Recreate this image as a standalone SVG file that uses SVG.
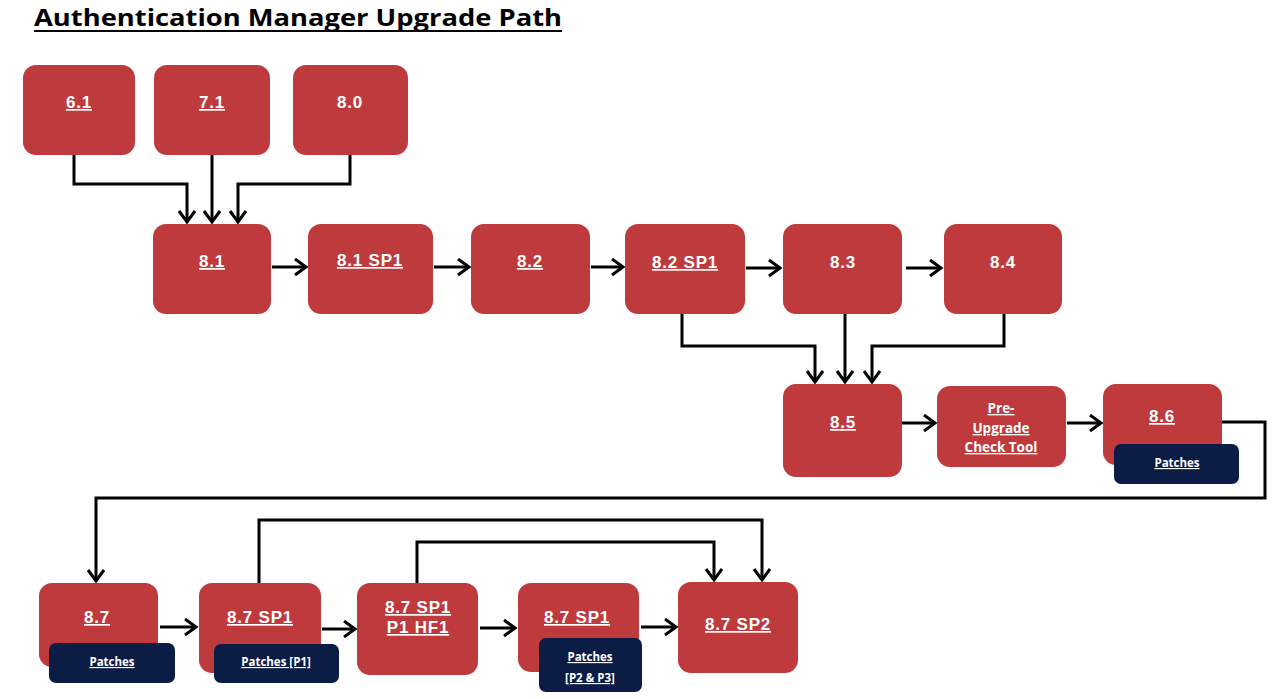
<svg xmlns="http://www.w3.org/2000/svg" width="1278" height="699" viewBox="0 0 1278 699">
<defs>
<style>
.node{fill:#BE3A3D}
.patch{fill:#0B1C45}
.lbl{font-family:"Liberation Sans",Arial,sans-serif;font-weight:bold;font-size:17px;fill:#fff;text-anchor:middle;letter-spacing:0.8px}
.u{text-decoration:underline}
.sm{font-family:"Open Sans","Noto Sans",sans-serif;font-weight:bold;font-size:13.5px;fill:#fff;text-anchor:middle;text-decoration:underline}
.pt{font-family:"Open Sans","Noto Sans",sans-serif;font-weight:bold;font-size:11.5px;fill:#fff;text-anchor:middle;text-decoration:underline}
.c{fill:none;stroke:#000;stroke-width:3;marker-end:url(#arr)}
</style>
<marker id="arr" markerUnits="userSpaceOnUse" markerWidth="16" markerHeight="20" refX="13" refY="9" orient="auto">
<path d="M2,1 L13,9 L2,17" fill="none" stroke="#000" stroke-width="3"/>
</marker>
</defs>
<rect width="1278" height="699" fill="#fff"/>
<g id="title">
<text x="34" y="26" font-family="Open Sans, Noto Sans, sans-serif" font-weight="bold" font-size="24" textLength="528" lengthAdjust="spacingAndGlyphs" fill="#000">Authentication Manager Upgrade Path</text>
<line x1="34" y1="31" x2="562" y2="31" stroke="#000" stroke-width="2"/>
</g>
<g id="connectors">
<path class="c" d="M74,155 V184 H187 V222"/>
<path class="c" d="M212,155 V222"/>
<path class="c" d="M350,155 V184 H238 V222"/>
<path class="c" d="M272,267 H306"/>
<path class="c" d="M434,267 H469"/>
<path class="c" d="M591,267 H623"/>
<path class="c" d="M746,268 H780"/>
<path class="c" d="M906,268 H941"/>
<path class="c" d="M682,314 V346 H815 V382"/>
<path class="c" d="M845,314 V382"/>
<path class="c" d="M1004,314 V346 H872 V382"/>
<path class="c" d="M902,423 H935"/>
<path class="c" d="M1067,423 H1101"/>
<path class="c" d="M1222,422 H1265 V498 H96 V581"/>
<path class="c" d="M160,627 H196"/>
<path class="c" d="M322,629 H355"/>
<path class="c" d="M480,628 H515"/>
<path class="c" d="M641,627 H676"/>
<path class="c" d="M259,583 V520 H762 V580"/>
<path class="c" d="M417,583 V542 H714 V580"/>
</g>
<g id="n61"><rect class="node" x="23" y="65" width="112" height="90" rx="13"/><text class="lbl u" x="79" y="108">6.1</text></g>
<g id="n71"><rect class="node" x="154" y="65" width="116" height="90" rx="13"/><text class="lbl u" x="212" y="108">7.1</text></g>
<g id="n80"><rect class="node" x="293" y="65" width="115" height="90" rx="13"/><text class="lbl" x="350" y="108">8.0</text></g>
<g id="n81"><rect class="node" x="153" y="224" width="118" height="90" rx="13"/><text class="lbl u" x="212" y="267">8.1</text></g>
<g id="n81sp1"><rect class="node" x="308" y="224" width="125" height="90" rx="13"/><text class="lbl u" x="370" y="266">8.1 SP1</text></g>
<g id="n82"><rect class="node" x="471" y="224" width="119" height="90" rx="13"/><text class="lbl u" x="530" y="267">8.2</text></g>
<g id="n82sp1"><rect class="node" x="625" y="224" width="120" height="90" rx="13"/><text class="lbl u" x="685" y="268">8.2 SP1</text></g>
<g id="n83"><rect class="node" x="783" y="224" width="119" height="90" rx="13"/><text class="lbl" x="843" y="268">8.3</text></g>
<g id="n84"><rect class="node" x="944" y="224" width="118" height="90" rx="13"/><text class="lbl" x="1003" y="268">8.4</text></g>
<g id="n85"><rect class="node" x="783" y="384" width="119" height="93" rx="13"/><text class="lbl u" x="843" y="428">8.5</text></g>
<g id="npre"><rect class="node" x="937" y="386" width="129" height="81" rx="13"/>
<text class="sm" x="1001" y="413">Pre-</text><text class="sm" x="1001" y="433">Upgrade</text><text class="sm" x="1001" y="452">Check Tool</text></g>
<g id="n86"><rect class="node" x="1103" y="384" width="119" height="81" rx="13"/><text class="lbl u" x="1162" y="422">8.6</text>
<rect class="patch" x="1114" y="444" width="125" height="40" rx="7"/><text class="pt" x="1177" y="467">Patches</text></g>
<g id="n87"><rect class="node" x="39" y="583" width="119" height="84" rx="13"/><text class="lbl u" x="97" y="623">8.7</text>
<rect class="patch" x="49" y="643" width="126" height="40" rx="7"/><text class="pt" x="112" y="666">Patches</text></g>
<g id="n87sp1"><rect class="node" x="199" y="583" width="122" height="90" rx="13"/><text class="lbl u" x="260" y="623">8.7 SP1</text>
<rect class="patch" x="214" y="644" width="125" height="39" rx="7"/><text class="pt" x="276" y="666">Patches [P1]</text></g>
<g id="n87hf1"><rect class="node" x="357" y="583" width="121" height="92" rx="13"/><text class="lbl u" x="418" y="613">8.7 SP1</text><text class="lbl u" x="418" y="633">P1 HF1</text></g>
<g id="n87sp1b"><rect class="node" x="518" y="583" width="121" height="89" rx="13"/><text class="lbl u" x="577" y="623">8.7 SP1</text>
<rect class="patch" x="539" y="638" width="103" height="54" rx="7"/><text class="pt" x="590" y="661">Patches</text><text class="pt" x="590" y="682">[P2 &amp; P3]</text></g>
<g id="n87sp2"><rect class="node" x="678" y="582" width="120" height="91" rx="13"/><text class="lbl u" x="738" y="630">8.7 SP2</text></g>
</svg>
